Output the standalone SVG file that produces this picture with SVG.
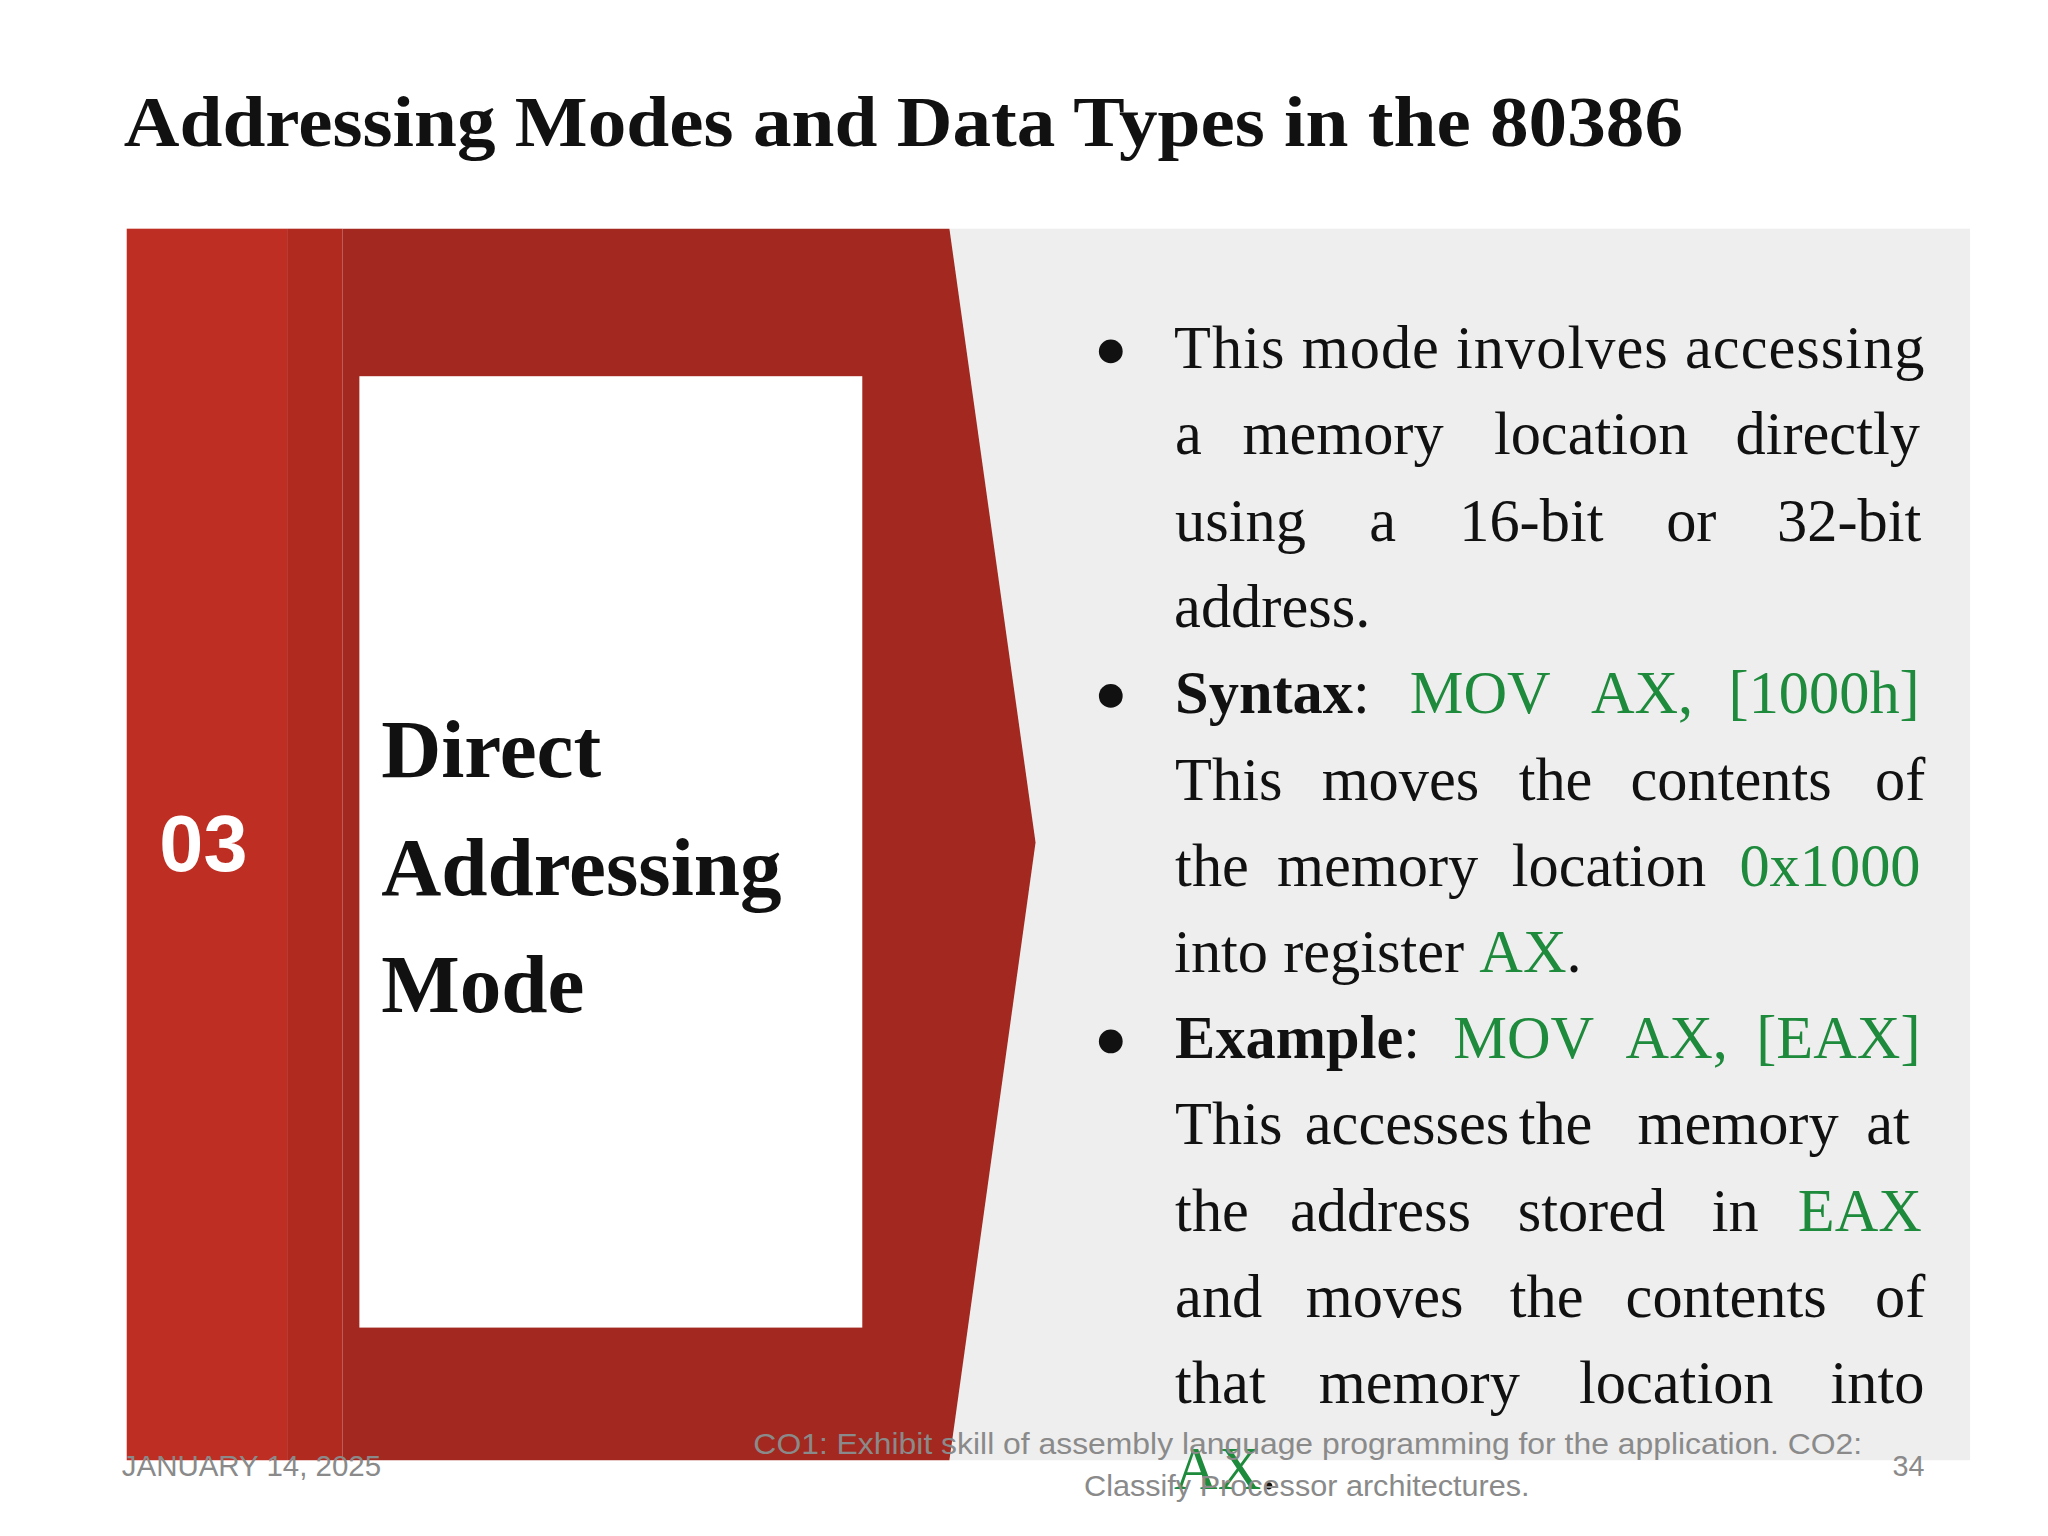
<svg xmlns="http://www.w3.org/2000/svg" width="2048" height="1536" viewBox="0 0 2048 1536">
<style>
.b{font-family:"Liberation Serif","DejaVu Serif",serif;font-size:61px;fill:#111}
.g{fill:#1E8A3C}
.f{font-family:"Liberation Sans Narrow","Liberation Sans",sans-serif;font-size:29px;fill:#8a8a8a}
</style>
<rect width="2048" height="1536" fill="#fff"/>
<g transform="scale(0.99)">
<text x="125" y="147" font-family="Liberation Serif,serif" font-weight="bold" font-size="72" fill="#111" textLength="1575" lengthAdjust="spacingAndGlyphs">Addressing Modes and Data Types in the 80386</text>
<g id="panel"><rect x="959" y="231" width="1031" height="1244" fill="#EEEEEE"/></g>
<g id="red">
<rect x="128" y="231" width="162" height="1244" fill="#BE2E22"/>
<rect x="290" y="231" width="56" height="1244" fill="#B02A20"/>
<polygon points="346,231 959,231 1046,851 959,1475 346,1475" fill="#A3281F"/>
<rect x="363" y="380" width="508" height="961" fill="#fff"/>
<text x="161" y="880" font-family="Liberation Sans,Arial,sans-serif" font-weight="bold" font-size="80" fill="#fff">03</text>
<g font-family="Liberation Serif,serif" font-weight="bold" font-size="84" fill="#111">
<text x="385" y="785">Direct</text>
<text x="385" y="904">Addressing</text>
<text x="385" y="1022">Mode</text>
</g>
</g>
<g id="bullets">
<g fill="#111"><circle cx="1122" cy="355" r="12"/><circle cx="1122" cy="703" r="12"/><circle cx="1122" cy="1052" r="12"/></g>
<text class="b" x="1186" y="372" textLength="758" lengthAdjust="spacing">This mode involves accessing</text>
<text class="b" y="459"><tspan x="1187">a</tspan><tspan x="1255">memory</tspan><tspan x="1509">location</tspan><tspan x="1753">directly</tspan></text>
<text class="b" y="546"><tspan x="1187">using</tspan><tspan x="1383">a</tspan><tspan x="1474">16-bit</tspan><tspan x="1683">or</tspan><tspan x="1795">32-bit</tspan></text>
<text class="b" x="1186" y="633">address.</text>
<text class="b" y="720"><tspan x="1187" font-weight="bold">Syntax</tspan>:<tspan x="1424" class="g">MOV</tspan><tspan x="1607" class="g">AX,</tspan><tspan x="1746" class="g">[1000h]</tspan></text>
<text class="b" y="808"><tspan x="1187">This</tspan><tspan x="1335">moves</tspan><tspan x="1534">the</tspan><tspan x="1647">contents</tspan><tspan x="1894">of</tspan></text>
<text class="b" y="895"><tspan x="1187">the</tspan><tspan x="1290">memory</tspan><tspan x="1527">location</tspan><tspan x="1757" class="g">0x1000</tspan></text>
<text class="b" x="1186" y="982">into register <tspan class="g">AX</tspan>.</text>
<text class="b" y="1069"><tspan x="1187" font-weight="bold">Example</tspan>:<tspan x="1468" class="g">MOV</tspan><tspan x="1642" class="g">AX,</tspan><tspan x="1774" class="g">[EAX]</tspan></text>
<text class="b" y="1156"><tspan x="1187">This</tspan><tspan x="1318">accesses</tspan><tspan x="1534">the</tspan><tspan x="1654">memory</tspan><tspan x="1885">at</tspan></text>
<text class="b" y="1243"><tspan x="1187">the</tspan><tspan x="1303">address</tspan><tspan x="1533">stored</tspan><tspan x="1729">in</tspan><tspan x="1816" class="g">EAX</tspan></text>
<text class="b" y="1330"><tspan x="1187">and</tspan><tspan x="1319">moves</tspan><tspan x="1525">the</tspan><tspan x="1642">contents</tspan><tspan x="1894">of</tspan></text>
<text class="b" y="1417"><tspan x="1187">that</tspan><tspan x="1332">memory</tspan><tspan x="1595">location</tspan><tspan x="1849">into</tspan></text>
<text class="b" x="1186" y="1504"><tspan class="g">AX</tspan>.</text>
</g>
<g id="footer">
<text class="f" x="123" y="1491" textLength="262" lengthAdjust="spacingAndGlyphs">JANUARY 14, 2025</text>
<text class="f" x="761" y="1469" textLength="1120" lengthAdjust="spacingAndGlyphs">CO1: Exhibit skill of assembly language programming for the application.    CO2:</text>
<text class="f" x="1095" y="1511" textLength="450" lengthAdjust="spacingAndGlyphs">Classify Processor architectures.</text>
<text class="f" x="1944" y="1491" text-anchor="end">34</text>
</g>
</g>
</svg>
